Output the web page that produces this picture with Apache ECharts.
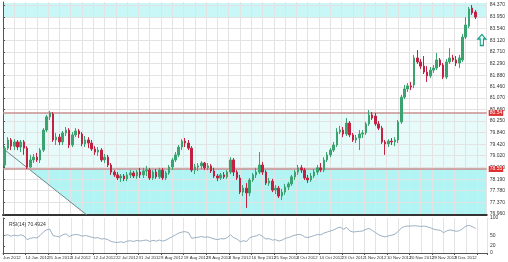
<!DOCTYPE html>
<html>
<head>
<meta charset="utf-8">
<script src="https://cdn.jsdelivr.net/npm/echarts@6/dist/echarts.min.js"></script>
<style>
  html, body { margin: 0; padding: 0; background: #fff; }
  #chart { width: 508px; height: 262px; }
</style>
</head>
<body>
<div id="chart"></div>
<script>
// daily candles, [open, close, low, high]
var candles = [
  [78.69,79.29,78.62,79.36],[79.29,79.58,79.22,79.68],[79.58,79.36,79.22,79.65],[79.36,79.51,79.22,79.61],
  [79.51,79.33,79.22,79.58],[79.33,79.51,79.15,79.58],[79.51,79.29,79.05,79.58],[79.29,78.62,78.55,79.36],
  [78.62,78.87,78.59,79.05],[78.87,78.97,78.76,79.08],[78.97,78.87,78.80,79.12],[78.87,79.22,78.76,79.29],
  [79.22,79.93,79.15,80.00],[79.93,80.40,79.86,80.47],[80.40,80.54,80.29,80.61],[80.50,79.58,79.51,80.57],
  [79.58,79.68,79.40,79.83],[79.68,79.51,79.40,79.79],[79.51,79.83,79.40,79.90],[79.83,79.93,79.72,80.04],
  [79.93,79.40,79.29,80.00],[79.40,79.76,79.33,79.86],[79.76,79.90,79.68,80.00],[79.90,79.79,79.65,79.97],
  [79.79,79.44,79.36,79.86],[79.44,79.58,79.33,79.72],[79.58,79.47,79.29,79.68],[79.47,79.26,79.19,79.58],
  [79.26,79.15,79.05,79.36],[79.15,79.22,79.01,79.33],[79.22,78.87,78.80,79.29],[78.87,78.97,78.76,79.08],
  [78.97,78.69,78.62,79.05],[78.69,78.44,78.34,78.76],[78.44,78.34,78.27,78.51],[78.34,78.23,78.16,78.44],
  [78.23,78.30,78.09,78.37],[78.30,78.20,78.12,78.37],[78.20,78.34,78.12,78.44],[78.34,78.41,78.23,78.51],
  [78.41,78.30,78.23,78.48],[78.30,78.44,78.20,78.51],[78.44,78.34,78.23,78.59],[78.34,78.48,78.23,78.59],
  [78.48,78.51,78.30,78.66],[78.51,78.23,78.16,78.59],[78.23,78.44,78.16,78.51],[78.44,78.27,78.20,78.55],
  [78.27,78.51,78.20,78.59],[78.51,78.23,78.16,78.59],[78.23,78.41,78.16,78.48],[78.41,78.62,78.34,78.69],
  [78.62,78.87,78.51,78.94],[78.87,79.05,78.80,79.15],[79.05,79.33,78.97,79.40],[79.33,79.54,79.22,79.61],
  [79.54,79.47,79.33,79.65],[79.47,79.29,79.22,79.58],[79.29,78.51,78.44,79.36],[78.51,78.62,78.37,78.73],
  [78.62,78.66,78.48,78.76],[78.66,78.76,78.55,78.83],[78.76,78.59,78.51,78.80],[78.59,78.66,78.51,78.76],
  [78.66,78.48,78.41,78.73],[78.48,78.30,78.23,78.59],[78.30,78.23,78.12,78.37],[78.23,78.34,78.16,78.41],
  [78.34,78.27,78.20,78.44],[78.27,78.44,78.20,78.51],[78.44,78.87,78.37,78.97],[78.87,78.44,78.30,78.94],
  [78.44,78.23,78.16,78.51],[78.23,77.73,77.66,78.34],[77.73,77.87,77.59,77.98],[77.87,77.70,77.17,78.05],
  [77.70,78.16,77.59,78.23],[78.16,78.34,78.09,78.41],[78.34,78.44,78.23,78.59],[78.44,78.69,78.37,79.15],
  [78.69,78.44,78.34,78.80],[78.44,78.05,77.98,78.51],[78.05,78.12,77.95,78.23],[78.12,77.80,77.73,78.20],
  [77.80,77.87,77.66,77.98],[77.87,77.59,77.52,77.95],[77.59,77.73,77.45,77.84],[77.73,77.91,77.63,78.02],
  [77.91,78.02,77.80,78.09],[78.02,78.27,77.95,78.34],[78.27,78.44,78.16,78.51],[78.44,78.59,78.34,78.69],
  [78.59,78.51,78.41,78.69],[78.51,78.23,78.16,78.59],[78.23,78.16,78.05,78.34],[78.16,78.30,78.09,78.41],
  [78.30,78.44,78.23,78.55],[78.44,78.59,78.34,78.69],[78.59,78.51,78.44,78.76],[78.51,78.87,78.44,78.97],
  [78.87,79.05,78.80,79.15],[79.05,79.22,78.97,79.29],[79.22,79.40,79.15,79.51],[79.40,79.86,79.33,80.00],
  [79.86,79.93,79.79,80.08],[79.93,79.79,79.68,80.04],[79.79,80.18,79.72,80.36],[80.18,79.76,79.68,80.25],
  [79.76,79.58,79.51,79.83],[79.58,79.65,79.47,79.76],[79.65,79.79,79.22,79.93],[79.79,79.83,79.65,79.93],
  [79.83,80.15,79.76,80.22],[80.15,80.47,80.08,80.64],[80.47,80.36,80.29,80.57],[80.43,80.15,80.08,80.54],
  [80.15,80.00,79.93,80.25],[80.00,79.51,79.44,80.08],[79.51,79.44,79.05,79.58],[79.44,79.54,79.33,79.61],
  [79.54,79.51,79.40,79.65],[79.51,79.58,79.36,79.68],[79.58,80.22,79.47,80.29],[80.22,81.10,80.15,81.18],
  [81.10,81.39,81.03,81.53],[81.39,81.50,81.28,81.60],[81.50,81.46,81.35,81.64],[81.53,82.49,81.42,82.60],
  [82.49,82.35,82.28,82.77],[82.35,82.20,82.10,82.45],[82.20,81.99,81.92,82.56],[81.99,81.85,81.64,82.20],
  [81.85,82.06,81.78,82.17],[82.06,82.13,81.96,82.24],[82.13,82.42,82.06,82.67],[82.42,82.24,82.17,82.49],
  [82.24,81.81,81.74,82.31],[81.81,82.35,81.74,82.45],[82.35,82.49,82.28,82.84],[82.49,82.42,82.35,82.60],
  [82.42,82.31,82.20,82.56],[82.31,82.49,82.13,82.60],[82.42,83.23,82.35,83.34],[83.23,83.66,83.16,83.94],
  [83.62,84.23,83.55,84.30],[84.26,84.09,84.02,84.37],[84.12,83.94,83.87,84.19]
];

// RSI(14)
var rsi = [
  50,52,48,51,49,52,49,38,42,44,43,50,60,66,68,50,48,46,52,55,47,51,53,52,48,50,48,45,43,44,
  40,41,38,33,31,30,32,30,34,35,33,36,34,36,37,33,36,34,37,34,37,42,47,52,57,60,61,58,42,44,
  45,47,45,46,43,40,38,41,40,44,52,44,40,32,35,33,44,47,49,53,47,40,41,37,38,34,37,42,44,48,
  51,53,52,46,44,47,50,53,52,57,60,63,66,71,74,68,73,63,60,61,62,63,68,70,64,58,52,48,46,49,
  51,54,62,72,76,77,77,78,77,76,77,75,72,68,66,65,58,63,66,64,62,64,70,77,79,75,70.5
];

var dateLabels = ['Jun 2012', '14 Jun 2012', '25 Jun 2012', '3 Jul 2012', '12 Jul 2012', '22 Jul 2012',
  '31 Jul 2012', '9 Aug 2012', '19 Aug 2012', '28 Aug 2012', '6 Sep 2012', '16 Sep 2012', '25 Sep 2012',
  '4 Oct 2012', '14 Oct 2012', '23 Oct 2012', '1 Nov 2012', '10 Nov 2012', '20 Nov 2012', '29 Nov 2012',
  '9 Dec 2012'];

var priceTicks = [76.960, 77.370, 77.780, 78.190, 78.600, 79.020, 79.420, 79.840, 80.250, 80.660,
  81.070, 81.460, 81.880, 82.290, 82.710, 83.120, 83.540, 83.950, 84.370];
var rsiTicks = [0, 20, 50, 100];

// drawn objects, x in bar slots, y in price
var resistance = 80.54;
var support = 78.55;
var lastPrice = 83.94;
var topBand = [83.91, 84.44];
var trendLine = [[0.62, 79.22], [26.0, 76.917]];
var supportZone = [[8.06, 78.55], [150, 78.55], [150, 76.917], [26.0, 76.917]];
var arrowAt = ['148', 83.13];

var slots = [];
for (var i = 0; i < 150; i++) slots.push(String(i));

var dom = document.getElementById('chart');
var myChart = echarts.init(dom, null, { renderer: 'canvas' });
var font = 'Liberation Sans';
var gridColor = '#e3e3e3';

var option = {
  animation: false,
  backgroundColor: '#fff',
  textStyle: { fontFamily: font },
  title: {
    text: 'RSI(14) 70.4924',
    left: 4, top: 217,
    textStyle: { fontSize: 5, fontWeight: 'normal', color: '#333', fontFamily: font }
  },
  grid: [
    { left: 3, right: 21, top: 2, height: 213 },
    { left: 3, right: 21, top: 218, height: 35 }
  ],
  xAxis: [
    { type: 'category', gridIndex: 0, position: 'bottom', data: slots, boundaryGap: true, z: 3,
      axisLine: { show: true, lineStyle: { color: '#333', width: 2 } },
      axisTick: { show: false }, axisLabel: { show: false }, splitLine: { show: false } },
    { type: 'value', gridIndex: 0, position: 'top', min: 0, max: 150, interval: 7, z: 3,
      axisLine: { show: false }, axisTick: { show: false }, axisLabel: { show: false },
      splitLine: { show: true, lineStyle: { color: gridColor, width: 1 } },
      minorTick: { show: false, splitNumber: 2 },
      minorSplitLine: { show: true, lineStyle: { color: gridColor, width: 1 } } },
    { type: 'category', gridIndex: 1, position: 'top', data: slots, boundaryGap: true, show: false },
    { type: 'value', gridIndex: 1, position: 'bottom', min: 0, max: 150, interval: 7, z: 3,
      axisLine: { show: true, lineStyle: { color: '#555', width: 1 } },
      axisTick: { show: true, length: 2, lineStyle: { color: '#555' } },
      axisLabel: { fontSize: 4.3, color: '#333', align: 'left', margin: 2.5, fontFamily: font,
        hideOverlap: false,
        formatter: function (v) { return dateLabels[Math.round(v / 7)] || ''; } },
      splitLine: { show: true, lineStyle: { color: gridColor, width: 1 } },
      minorTick: { show: false, splitNumber: 2 },
      minorSplitLine: { show: true, lineStyle: { color: gridColor, width: 1 } } }
  ],
  yAxis: [
    { type: 'value', gridIndex: 0, position: 'right', min: 76.917, max: 84.476, z: 3,
      axisLine: { show: true, lineStyle: { color: '#555', width: 1 } },
      axisTick: { show: true, length: 2, customValues: priceTicks, lineStyle: { color: '#555' } },
      axisLabel: { fontSize: 5, color: '#333', margin: 3, fontFamily: font, customValues: priceTicks,
        formatter: function (v) { return v.toFixed(3); } },
      splitLine: { show: true, lineStyle: { color: gridColor, width: 1 } } },
    { type: 'value', gridIndex: 1, position: 'right', min: 0, max: 100, z: 3,
      axisLine: { show: true, lineStyle: { color: '#555', width: 1 } },
      axisTick: { show: true, length: 2, customValues: rsiTicks, lineStyle: { color: '#555' } },
      axisLabel: { fontSize: 5, color: '#333', margin: 3, fontFamily: font, customValues: rsiTicks },
      splitLine: { show: false } }
  ],
  series: [
    {
      // shaded zones
      type: 'custom',
      xAxisIndex: 1, yAxisIndex: 0,
      z: 1, clip: true, silent: true,
      data: [[0, 0]],
      renderItem: function (params, api) {
        var pts = supportZone.map(function (p) { return api.coord(p); });
        return { type: 'polygon', shape: { points: pts }, style: { fill: '#b2f3f3' } };
      },
      markArea: {
        silent: true,
        data: [
          [{ yAxis: topBand[0], itemStyle: { color: '#c9f7f7' } }, { yAxis: topBand[1] }],
          [{ yAxis: support, itemStyle: { color: '#e8fbfb' } }, { yAxis: resistance }]
        ]
      }
    },
    {
      // trend line drawn on top of the grid
      type: 'custom',
      xAxisIndex: 1, yAxisIndex: 0,
      z: 4, clip: true, silent: true,
      data: [[0, 0]],
      renderItem: function (params, api) {
        var a = api.coord(trendLine[0]);
        var b = api.coord(trendLine[1]);
        return { type: 'line', shape: { x1: a[0], y1: a[1], x2: b[0], y2: b[1] },
          style: { stroke: '#6a8a8a', lineWidth: 1 } };
      }
    },
    {
      type: 'candlestick',
      xAxisIndex: 0, yAxisIndex: 0,
      z: 5,
      barWidth: 2,
      data: candles,
      itemStyle: {
        color: '#3aa36f', color0: '#c32142',
        borderColor: '#3aa36f', borderColor0: '#c32142', borderWidth: 1
      },
      markLine: {
        silent: true, symbol: 'none', precision: 3,
        data: [
          { yAxis: resistance, lineStyle: { color: '#c98f8f', width: 1.5, type: 'solid' },
            label: { position: 'end', distance: 2, backgroundColor: '#e0302f', color: '#fff',
              fontSize: 5, padding: [1, 1, 0, 1], fontFamily: font } },
          { yAxis: support, lineStyle: { color: '#c98f8f', width: 1.5, type: 'solid' },
            label: { position: 'end', distance: 2, backgroundColor: '#e0302f', color: '#fff',
              fontSize: 5, padding: [1, 1, 0, 1], fontFamily: font } },
          { yAxis: lastPrice, lineStyle: { opacity: 0 },
            label: { position: 'end', distance: 2, backgroundColor: '#111', color: '#fff',
              fontSize: 5, padding: [1, 1, 0, 1], fontFamily: font } }
        ]
      },
      markPoint: {
        silent: true,
        symbol: 'path://M5,0 L10,5 L7,5 L7,12 L3,12 L3,5 L0,5 Z',
        symbolSize: [8, 11],
        itemStyle: { color: '#e8fbf6', borderColor: '#1b9e8a', borderWidth: 1.2 },
        label: { show: false },
        data: [{ coord: arrowAt }]
      }
    },
    {
      type: 'line',
      xAxisIndex: 2, yAxisIndex: 1,
      z: 5,
      data: rsi,
      symbol: 'none',
      lineStyle: { color: '#9cb0c4', width: 1 }
    }
  ]
};

if (option && typeof option === 'object') {
  myChart.setOption(option, true);
}
</script>
</body>
</html>
